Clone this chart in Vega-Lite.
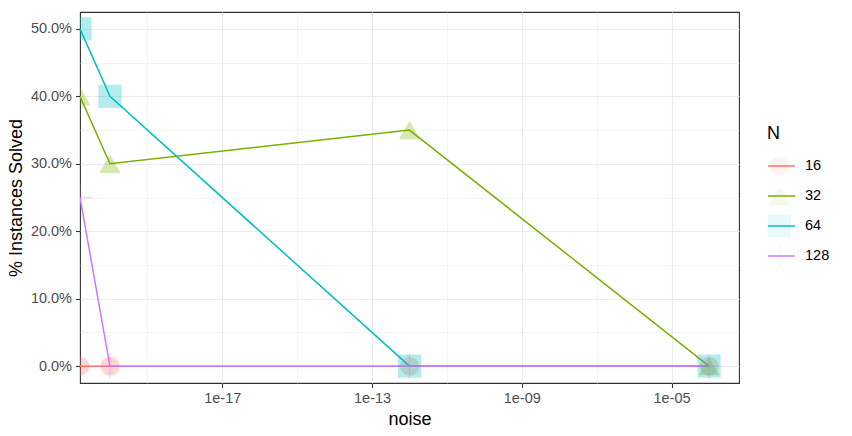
{
  "$schema": "https://vega.github.io/schema/vega-lite/v6.json",
  "width": 659,
  "height": 371,
  "autosize": {"type": "none"},
  "padding": {"left": 80, "top": 12, "right": 113, "bottom": 53},
  "background": "white",
  "config": {
    "font": "Liberation Sans",
    "view": {"stroke": "#333333", "strokeWidth": 1.1},
    "axis": {
      "domain": false,
      "gridColor": "#EBEBEB",
      "tickColor": "#333333",
      "tickSize": 4.5,
      "tickWidth": 1.1,
      "labelColor": "#4D4D4D",
      "labelFontSize": 14.5,
      "labelPadding": 4,
      "titleFontSize": 18,
      "titleColor": "#000000",
      "titleFontWeight": "normal"
    },
    "legend": {
      "titleFontSize": 18,
      "titleColor": "#000000",
      "titleFontWeight": "normal",
      "labelFontSize": 14.5,
      "labelColor": "#000000",
      "padding": 0
    }
  },
  "data": {
    "values": [
      {"N": 16, "noise": 0, "solved": 0},
      {"N": 16, "noise": 1e-20, "solved": 0},
      {"N": 16, "noise": 1e-12, "solved": 0},
      {"N": 16, "noise": 1e-4, "solved": 0},
      {"N": 32, "noise": 0, "solved": 0.4},
      {"N": 32, "noise": 1e-20, "solved": 0.3},
      {"N": 32, "noise": 1e-12, "solved": 0.35},
      {"N": 32, "noise": 1e-4, "solved": 0},
      {"N": 64, "noise": 0, "solved": 0.5},
      {"N": 64, "noise": 1e-20, "solved": 0.4},
      {"N": 64, "noise": 1e-12, "solved": 0},
      {"N": 64, "noise": 1e-4, "solved": 0},
      {"N": 128, "noise": 0, "solved": 0.25},
      {"N": 128, "noise": 1e-20, "solved": 0},
      {"N": 128, "noise": 1e-12, "solved": 0},
      {"N": 128, "noise": 1e-4, "solved": 0}
    ]
  },
  "layer": [
    {
      "mark": {"type": "line", "strokeWidth": 1.5, "clip": true},
      "encoding": {
        "x": {
          "field": "noise",
          "type": "quantitative",
          "scale": {"type": "log", "domain": [1.58489e-21, 6.30957e-4], "clamp": true, "nice": false},
          "axis": {
            "orient": "bottom",
            "title": "noise",
            "values": [1e-17, 1e-13, 1e-9, 1e-5],
            "labelExpr": "length(format(datum.value, '.0e')) == 4 ? replace(format(datum.value, '.0e'), 'e-', 'e-0') : format(datum.value, '.0e')",
            "grid": true,
            "gridWidth": 1.1,
            "titlePadding": 5
          }
        },
        "y": {
          "field": "solved",
          "type": "quantitative",
          "scale": {"domain": [-0.025, 0.525], "nice": false, "zero": false},
          "axis": {
            "orient": "left",
            "title": "% Instances Solved",
            "values": [0, 0.1, 0.2, 0.3, 0.4, 0.5],
            "format": ".1%",
            "grid": true,
            "gridWidth": 1.1,
            "titlePadding": 5
          }
        },
        "color": {
          "field": "N",
          "type": "nominal",
          "scale": {"domain": [16, 32, 64, 128], "range": ["#F8766D", "#7CAE00", "#00BFC4", "#C77CFF"]},
          "legend": {
            "title": " ",
            "orient": "none",
            "legendX": 687,
            "legendY": 112.5,
            "symbolType": "stroke",
            "symbolSize": 729,
            "symbolStrokeWidth": 1.5,
            "labelExpr": "''",
            "titlePadding": 10,
            "clipHeight": 27,
            "rowPadding": 3,
            "labelOffset": 13
          }
        }
      }
    },
    {
      "mark": {"type": "point", "filled": true, "opacity": 0.3, "clip": true},
      "encoding": {
        "x": {
          "field": "noise",
          "type": "quantitative",
          "axis": {
            "orient": "bottom",
            "title": null,
            "values": [1e-19, 1e-15, 1e-11, 1e-7],
            "labels": false,
            "ticks": false,
            "grid": true,
            "gridWidth": 0.55
          }
        },
        "y": {
          "field": "solved",
          "type": "quantitative",
          "axis": {
            "orient": "left",
            "title": null,
            "values": [0.05, 0.15, 0.25, 0.35, 0.45],
            "labels": false,
            "ticks": false,
            "grid": true,
            "gridWidth": 0.55
          }
        },
        "color": {
          "field": "N",
          "type": "nominal",
          "legend": {
            "title": "N",
            "orient": "none",
            "legendX": 687,
            "legendY": 112.5,
            "symbolOpacity": 0.3,
            "symbolStrokeWidth": 0,
            "titlePadding": 10,
            "clipHeight": 27,
            "rowPadding": 3,
            "labelOffset": 13
          }
        },
        "shape": {
          "field": "N",
          "type": "nominal",
          "scale": {
            "domain": [16, 32, 64, 128],
            "range": ["circle", "triangle-up", "square", "M-1,-0.055H-0.055V-1H0.055V-0.055H1V0.055H0.055V1H-0.055V0.055H-1Z"]
          }
        },
        "size": {
          "field": "N",
          "type": "nominal",
          "scale": {"domain": [16, 32, 64, 128], "range": [361, 625, 380, 729]}
        }
      }
    }
  ],
  "resolve": {
    "axis": {"x": "independent", "y": "independent"},
    "legend": {"color": "independent", "shape": "independent", "size": "independent"}
  }
}
